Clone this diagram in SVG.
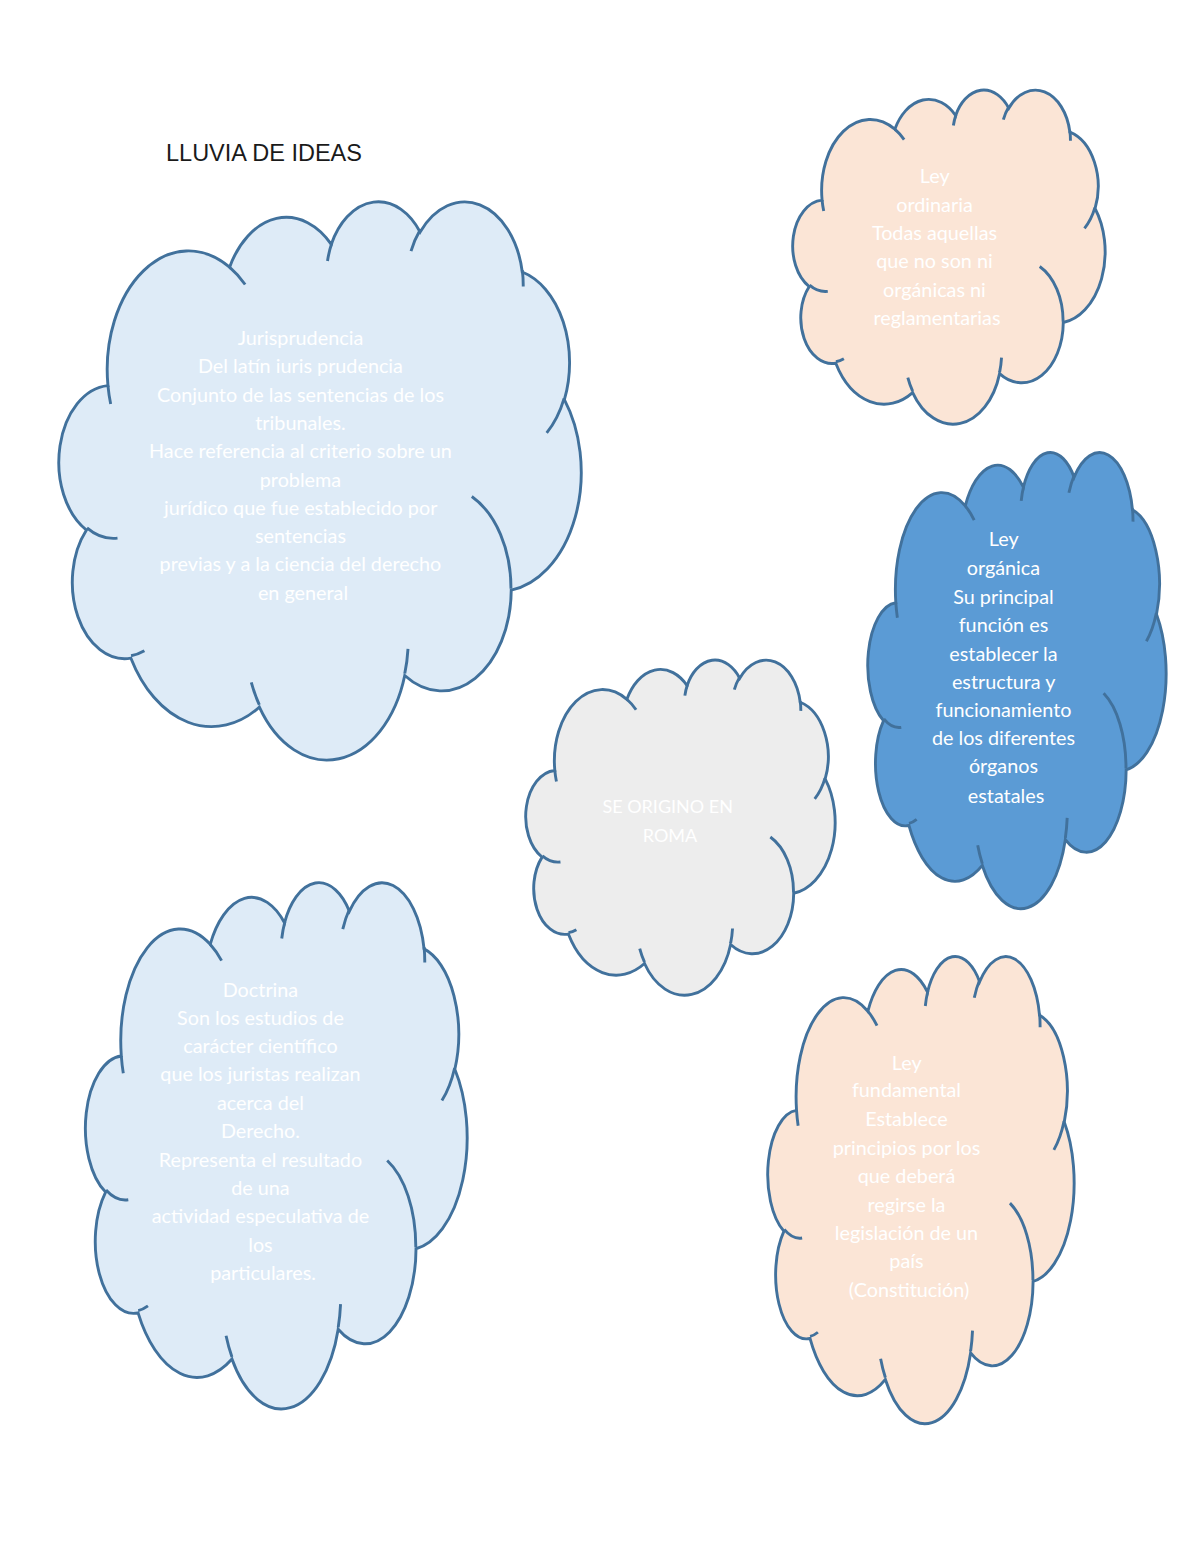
<svg xmlns="http://www.w3.org/2000/svg" xmlns:xlink="http://www.w3.org/1999/xlink" width="1200" height="1553" viewBox="0 0 1200 1553">
<style>
.bg{fill:#ffffff}
.title{font-family:"Liberation Sans",Arial,sans-serif;font-size:23.5px;fill:#1a1a1a}
.lightblue{fill:#deebf7;stroke:#41719c;stroke-width:2.9}
.peach{fill:#fbe5d6;stroke:#41719c;stroke-width:2.9}
.gray{fill:#ededed;stroke:#41719c;stroke-width:2.9}
.blue{fill:#5b9bd5;stroke:#41719c;stroke-width:2.9}
.inner{fill:none;stroke:#41719c;stroke-width:2.9}
.t{font-family:Lato,"Open Sans",sans-serif;font-size:19.8px;fill:#ffffff;text-anchor:middle}
.t2{font-family:Lato,"Open Sans",sans-serif;font-size:18px;fill:#ffffff;text-anchor:middle}
</style>
<defs>
<path id="cloud" vector-effect="non-scaling-stroke" d="M3900,14370 A6753,9190 0 0 1 14006,5203 A5333,7267 0 0 1 22457,3430 A4365,5945 0 0 1 29835,2479 A4857,6595 0 0 1 38320,5575 A5333,7273 0 0 1 41820,15459 A6775,9220 0 0 1 37405,30201 A5785,7867 0 0 1 28557,36812 A6752,9215 0 0 1 16482,39264 A7720,10543 0 0 1 5807,35471 A4360,5918 0 0 1 2116,25549 A4345,5945 0 0 1 3900,14370 Z"/>
<path id="cloudInner" vector-effect="non-scaling-stroke" d="M4693,26177 A4345,5945 0 0 1 2159,25379 M6928,34899 A4360,5918 0 0 1 5820,35281 M16478,39090 A6752,9215 0 0 1 15810,37349 M28827,34751 A6752,9215 0 0 1 28560,36660 M34129,22954 A5785,7867 0 0 1 37380,30089 M41798,15354 A5333,7273 0 0 1 40350,18030 M38324,5426 A4857,6595 0 0 1 38400,6690 M29078,3952 A4857,6595 0 0 1 29820,2340 M22141,4720 A4365,5945 0 0 1 22500,3330 M14000,5192 A6753,9190 0 0 1 15299,6540 M4127,15789 A6753,9190 0 0 1 3900,14371"/>
</defs>
<rect class="bg" x="0" y="0" width="1200" height="1553"/>
<text id="title" class="title" x="166" y="161">LLUVIA DE IDEAS</text>

<g id="connectors"></g>

<g id="jurisprudencia">
<use xlink:href="#cloud" href="#cloud" class="lightblue" transform="translate(61,200) scale(0.012037,0.012917)"/>
<use xlink:href="#cloudInner" href="#cloudInner" class="inner" transform="translate(61,200) scale(0.012037,0.012917)"/>
<text class="t">
<tspan x="303" y="345">Jurisprudencia</tspan>
<tspan x="303" y="373">Del latín iuris prudencia</tspan>
<tspan x="303" y="402">Conjunto de las sentencias de los</tspan>
<tspan x="303" y="430">tribunales.</tspan>
<tspan x="303" y="458">Hace referencia al criterio sobre un</tspan>
<tspan x="303" y="487">problema</tspan>
<tspan x="303" y="515">jurídico que fue establecido por</tspan>
<tspan x="303" y="543">sentencias</tspan>
<tspan x="303" y="571">previas y a la ciencia del derecho</tspan>
<tspan x="303" y="600">en general</tspan>
</text>
</g>

<g id="ley-ordinaria">
<use xlink:href="#cloud" href="#cloud" class="peach" transform="translate(794,89) scale(0.007199,0.007731)"/>
<use xlink:href="#cloudInner" href="#cloudInner" class="inner" transform="translate(794,89) scale(0.007199,0.007731)"/>
<text class="t">
<tspan x="937" y="183">Ley</tspan>
<tspan x="937" y="212">ordinaria</tspan>
<tspan x="937" y="240">Todas aquellas</tspan>
<tspan x="937" y="268">que no son ni</tspan>
<tspan x="937" y="297">orgánicas ni</tspan>
<tspan x="937" y="325">reglamentarias</tspan>
</text>
</g>

<g id="ley-organica">
<use xlink:href="#cloud" href="#cloud" class="blue" transform="translate(869,451) scale(0.006875,0.010556)"/>
<use xlink:href="#cloudInner" href="#cloudInner" class="inner" transform="translate(869,451) scale(0.006875,0.010556)"/>
<text class="t">
<tspan x="1006" y="546">Ley</tspan>
<tspan x="1006" y="575">orgánica</tspan>
<tspan x="1006" y="604">Su principal</tspan>
<tspan x="1006" y="632">función es</tspan>
<tspan x="1006" y="661">establecer la</tspan>
<tspan x="1006" y="689">estructura y</tspan>
<tspan x="1006" y="717">funcionamiento</tspan>
<tspan x="1006" y="745">de los diferentes</tspan>
<tspan x="1006" y="773">órganos</tspan>
<tspan x="1006" y="803">estatales</tspan>
</text>
</g>

<g id="se-origino">
<use xlink:href="#cloud" href="#cloud" class="gray" transform="translate(527,659) scale(0.007130,0.007755)"/>
<use xlink:href="#cloudInner" href="#cloudInner" class="inner" transform="translate(527,659) scale(0.007130,0.007755)"/>
<text class="t2">
<tspan x="670" y="813">SE ORIGINO EN</tspan>
<tspan x="670" y="842">ROMA</tspan>
</text>
</g>

<g id="doctrina">
<use xlink:href="#cloud" href="#cloud" class="lightblue" transform="translate(87,881) scale(0.008796,0.012176)"/>
<use xlink:href="#cloudInner" href="#cloudInner" class="inner" transform="translate(87,881) scale(0.008796,0.012176)"/>
<text class="t">
<tspan x="263" y="997">Doctrina</tspan>
<tspan x="263" y="1025">Son los estudios de</tspan>
<tspan x="263" y="1053">carácter científico</tspan>
<tspan x="263" y="1081">que los juristas realizan</tspan>
<tspan x="263" y="1110">acerca del</tspan>
<tspan x="263" y="1138">Derecho.</tspan>
<tspan x="263" y="1167">Representa el resultado</tspan>
<tspan x="263" y="1195">de una</tspan>
<tspan x="263" y="1223">actividad especulativa de</tspan>
<tspan x="263" y="1252">los</tspan>
<tspan x="263" y="1280">particulares.</tspan>
</text>
</g>

<g id="ley-fundamental">
<use xlink:href="#cloud" href="#cloud" class="peach" transform="translate(769,955) scale(0.007060,0.010810)"/>
<use xlink:href="#cloudInner" href="#cloudInner" class="inner" transform="translate(769,955) scale(0.007060,0.010810)"/>
<text class="t">
<tspan x="909" y="1070">Ley</tspan>
<tspan x="909" y="1097">fundamental</tspan>
<tspan x="909" y="1126">Establece</tspan>
<tspan x="909" y="1155">principios por los</tspan>
<tspan x="909" y="1183">que deberá</tspan>
<tspan x="909" y="1212">regirse la</tspan>
<tspan x="909" y="1240">legislación de un</tspan>
<tspan x="909" y="1268">país</tspan>
<tspan x="909" y="1297">(Constitución)</tspan>
</text>
</g>
</svg>
